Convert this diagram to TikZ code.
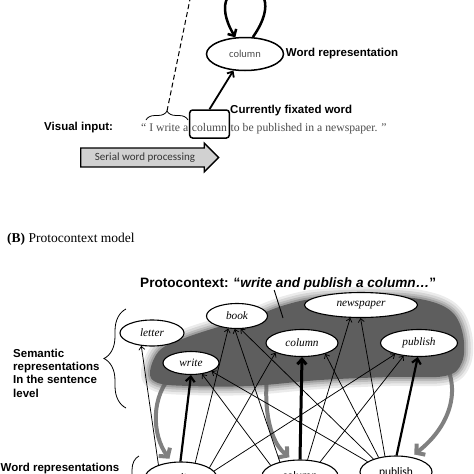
\documentclass[tikz,border=0pt]{standalone}
\usepackage{fontspec}
\setmainfont{Liberation Serif}
\setsansfont{Liberation Sans}
\newfontfamily\calfont{Carlito}
\usetikzlibrary{positioning,shapes.geometric,shapes.arrows,arrows.meta,decorations.pathreplacing}
\definecolor{shadegray}{gray}{0.37}
\definecolor{loopgray}{gray}{0.5}
\definecolor{inkgray}{gray}{0.3}
\pgfdeclarelayer{bg}
\pgfsetlayers{bg,main}
\newcommand\blobpath{plot[smooth cycle, tension=0.6] coordinates {(150,372) (160,350) (185,338) (215,328) (250,318) (285,305) (320,298) (380,296) (425,300) (452,312) (463,335) (462,362) (445,376) (390,377) (320,380) (250,386) (190,386) (158,383)}}

\begin{document}
\begin{tikzpicture}[x=1pt,y=-1pt,
	sem/.style		={ellipse, draw, fill=white, line width=1.1pt, inner sep=0pt, font=\fontsize{11.3}{13}\selectfont\itshape},
	wrd/.style		={ellipse, draw, fill=white, line width=1.1pt, inner sep=0pt, font=\calfont\fontsize{11.5}{13}\selectfont},
	lbl/.style		={inner sep=0pt, font=\sffamily\bfseries\fontsize{11.5}{13}\selectfont},
	sent/.style		={inner xsep=0.4pt, inner ysep=0pt, text=inkgray, font=\fontsize{11.7}{14}\selectfont},
	link/.style		={line width=0.75pt, -{Straight Barb[length=3.5pt,width=6pt]}},
	boost/.style	={line width=2.2pt, -{Straight Barb[length=5pt,width=9pt]}},
	feedback/.style	={loopgray, line width=4pt, -{Straight Barb[length=6pt,width=14pt]}, shorten >=4pt}]
	\useasboundingbox (0,0) rectangle (474,474);
	\clip (0,0) rectangle (474,474);

	\node[ellipse, draw, line width=1.5pt, minimum width=77pt, minimum height=33pt, inner sep=0pt, text=inkgray, font=\calfont\fontsize{10.5}{12}\selectfont] (col) at (245,54) {column};
	\node[lbl, right=1.5pt of col]	(colr)	{Word representation};
	\node[sent, draw=black, line width=1.5pt, rounded corners=3pt, inner xsep=2.3pt, inner ysep=2pt, text height=19pt, text depth=5pt, anchor=base] (fix) at (209.5,131) {column};
	\node[sent, anchor=base east]	(pre)	at (fix.base west)	{“ I write a};
	\node[sent, anchor=base west]	(post)	at (fix.base east)	{to be published in a newspaper. ”};
	\node[lbl, anchor=base west]	(vis)	at (44,130.5)		{Visual input:};
	\node[lbl, anchor=base west]	(fixl)	at (230,113)		{Currently fixated word};
	\node[single arrow, draw, line width=1.3pt, fill=black!18, text=black!80, single arrow head extend=5pt, single arrow head indent=0pt, minimum height=138pt, inner xsep=4pt, inner ysep=4pt, font=\calfont\fontsize{11}{13}\selectfont, anchor=tail] (serial) at (80,157.5) {Serial word processing};

	\coordinate (b1) at (146,120);
	\coordinate (b2) at (188,120);
	\coordinate (bt) at (167,111);
	\coordinate (dtop) at (191.5,-8);
	\draw[decorate, decoration={brace, amplitude=9pt}, line width=0.8pt] (b1) -- (b2);
	\draw[dashed, dash pattern=on 5pt off 3pt, line width=1pt] (bt) -- (dtop);
	\draw[line width=2.5pt, -{Straight Barb[length=5pt,width=10pt]}] (col.65) .. controls (300,-30) and (195,-30) .. (col.120);
	\draw[line width=1.8pt, -{Straight Barb[length=4.5pt,width=8pt]}] (fix.north) -- (col.-125);

	\node[anchor=base west, inner sep=0pt, font=\fontsize{13.5}{16}\selectfont] (B) at (7,242) {\textbf{(B)} Protocontext model};
	\node[anchor=base west, inner sep=0pt, font=\sffamily\bfseries\fontsize{13.6}{16}\selectfont] (proto) at (140,287) {Protocontext: “\textit{write and publish a column…}”};

	\node[sem, minimum width=113pt, minimum height=25pt]	(news)	at (361,305)	{newspaper};
	\node[sem, minimum width=61pt, minimum height=25pt]		(book)	at (237,316)	{book};
	\node[sem, minimum width=64pt, minimum height=26pt]		(lett)	at (152,333)	{letter};
	\node[sem, minimum width=72pt, minimum height=27pt]		(scol)	at (302,343)	{column};
	\node[sem, minimum width=77pt, minimum height=27pt]		(spub)	at (419,343)	{publish};
	\node[sem, minimum width=56pt, minimum height=23pt]		(swri)	at (191,363)	{write};
	\node[wrd, minimum width=72pt, minimum height=32pt]		(wwri)	at (181,478)	{write};
	\node[wrd, minimum width=76pt, minimum height=32pt]		(wcol)	at (300,476)	{column};
	\node[wrd, minimum width=72pt, minimum height=32pt]		(wpub)	at (396,472)	{publish};

	\node[lbl, anchor=north west, align=left, font=\sffamily\bfseries\fontsize{11.5}{13.2}\selectfont] (semlab) at (13,349) {Semantic\\representations\\In the sentence\\level};
	\node[lbl, anchor=base west] (wordlab) at (0.5,471.5) {Word representations};

	\coordinate (sb1) at (126,408);
	\coordinate (sb2) at (126,309);
	\coordinate (wb1) at (139,530);
	\coordinate (wb2) at (139,456);
	\coordinate (pc) at (283,318);
	\draw[decorate, decoration={brace, amplitude=22pt}, line width=0.8pt] (sb1) -- (sb2);
	\draw[decorate, decoration={brace, amplitude=14pt}, line width=0.8pt] (wb1) -- (wb2);
	\draw[line width=0.9pt] ([xshift=-14pt]proto.south) -- (pc);

	\draw[link] (wwri.150) -- (lett.-130);
	\draw[link] (wwri.47) -- (book.-125);
	\draw[link] (wwri.20) -- (scol.-160);
	\draw[link] (wwri.12) -- (spub.-155);
	\draw[link] (wcol.145) -- (book.-100);
	\draw[link] (wcol.160) -- (swri.-45);
	\draw[link] (wcol.65) -- (news.-130);
	\draw[link] (wcol.35) -- (spub.-140);
	\draw[link] (wpub.150) -- (book.-75);
	\draw[link] (wpub.160) -- (swri.-22);
	\draw[link] (wpub.140) -- (scol.-25);
	\draw[link] (wpub.125) -- (news.-92);
	\draw[boost] (wwri.92) -- (swri.-90);
	\draw[boost, line width=3pt] (wcol.north) -- (scol.south);
	\draw[boost] (wpub.88) -- (spub.-95);

	\begin{pgfonlayer}{bg}
		\draw[feedback] (swri.-150) .. controls (150,395) and (152,435) .. (wwri.120);
		\draw[feedback] (scol.-165) .. controls (262,385) and (264,437) .. (wcol.115);
		\draw[feedback] (spub.-30) .. controls (463,385) and (452,425) .. (wpub.45);
		\foreach \w/\o in {18/0.12,13/0.16,8/0.22,4/0.3}
			\draw[shadegray, opacity=\o, line width=\w pt, line join=round] \blobpath;
		\fill[shadegray] \blobpath;
	\end{pgfonlayer}
\end{tikzpicture}
\end{document}
